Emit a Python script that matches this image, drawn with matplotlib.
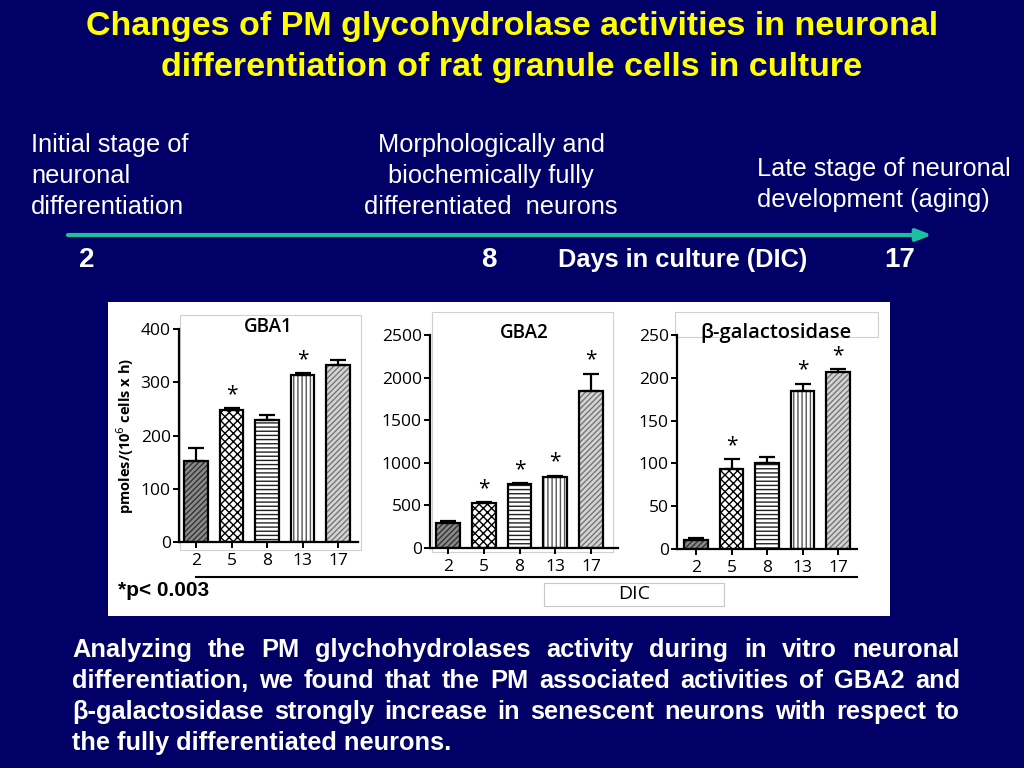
import matplotlib
matplotlib.use("Agg")
from matplotlib import pyplot as plt
from matplotlib.patches import Rectangle, FancyArrowPatch
from matplotlib.lines import Line2D

# data
days = ['2', '5', '8', '13', '17']

gba1 = [153, 248, 229, 314, 332]
gba1_err = [23, 3, 10, 3, 10]
gba1_sig = [False, True, False, True, False]

gba2 = [298, 525, 750, 835, 1842]
gba2_err = [15, 12, 12, 12, 205]
gba2_sig = [False, True, True, True, True]

bgal = [10, 93, 100, 185, 207]
bgal_err = [3, 12, 7, 8, 3]
bgal_sig = [False, True, False, True, True]

title_lines = ['Changes of PM glycohydrolase activities in neuronal',
               'differentiation of rat granule cells in culture']
stage_left = ['Initial stage of', 'neuronal', 'differentiation']
stage_mid = ['Morphologically and', 'biochemically fully', 'differentiated  neurons']
stage_right = ['Late stage of neuronal', 'development (aging)']
para_lines = ['Analyzing the PM glychohydrolases activity during in vitro neuronal',
              'differentiation, we found that the PM associated activities of GBA2 and',
              'β-galactosidase strongly increase in senescent neurons with respect to',
              'the fully differentiated neurons.']

BG = '#000066'
W, H = 1024, 768
SANS = 'Liberation Sans'
CHART = 'Open Sans'
FS = 18.3

fig = plt.figure(figsize=(10.24, 7.68), dpi=100, facecolor=BG)


def fx(x):
    return x / W


def fy(y):
    return 1 - y / H


# title
for k, line in enumerate(title_lines):
    fig.text(fx(512), fy(35 + 41 * k), line, color='#FFFF00', fontsize=24.5,
             fontweight='bold', family=SANS, ha='center', va='baseline')

# stage labels
for k, line in enumerate(stage_left):
    fig.text(fx(31), fy(152 + 31 * k), line, color='white', fontsize=FS,
             family=SANS, ha='left', va='baseline')
for k, line in enumerate(stage_mid):
    fig.text(fx(491), fy(152 + 31 * k), line, color='white', fontsize=FS,
             family=SANS, ha='center', va='baseline')
for k, line in enumerate(stage_right):
    fig.text(fx(757), fy(176 + 31 * k), line, color='white', fontsize=FS,
             family=SANS, ha='left', va='baseline')

# time arrow
arrow = FancyArrowPatch((fx(68), fy(235)), (fx(932), fy(235)), transform=fig.transFigure,
                        arrowstyle='-|>,head_length=9,head_width=3.5', color='#1DBFA0',
                        lw=3, mutation_scale=1, shrinkA=0, shrinkB=0)
fig.patches.append(arrow)

for x, s in [(87, '2'), (489, '8'), (900, '17')]:
    fig.text(fx(x), fy(267), s, color='white', fontsize=20, fontweight='bold',
             family=SANS, ha='center', va='baseline')
fig.text(fx(683), fy(267), 'Days in culture (DIC)', color='white', fontsize=FS,
         fontweight='bold', family=SANS, ha='center', va='baseline')

# white panel holding the three graphs
fig.patches.append(Rectangle((fx(108), fy(616)), fx(890 - 108), (616 - 302) / H,
                             transform=fig.transFigure, facecolor='white',
                             edgecolor='none', zorder=-2))

# faint frames of the pasted graph images
for (x0, y0, x1, y1) in [(180, 315, 361, 550), (432, 312, 613, 552), (675, 312, 878, 337)]:
    fig.patches.append(Rectangle((fx(x0), fy(y1)), fx(x1 - x0), (y1 - y0) / H,
                                 transform=fig.transFigure, facecolor='none',
                                 edgecolor='#d0d0d0', lw=0.8, zorder=-1))

fills = ['#8a8a8a', 'white', 'white', 'white', '#d4d4d4']
hatches = ['//////', 'xxxx', '----', '||||', '//////']
hatch_cols = ['#333333', 'black', '#222222', '#555555', '#777777']


def panel(left, right, y0, ytop, ymax, ystep, vals, errs, sig, title, title_fs, title_x,
          xc0, xc4):
    step = (xc4 - xc0) / 4
    ax = fig.add_axes([fx(left), fy(y0), fx(right - left), (y0 - ytop) / H])
    ax.set_facecolor('none')
    x = list(range(len(days)))
    for i in x:
        ax.bar(i, vals[i], width=0.66, color=fills[i], hatch=hatches[i],
               edgecolor=hatch_cols[i], linewidth=0, zorder=2)
    ax.bar(x, vals, width=0.66, fill=False, edgecolor='black', linewidth=1.6, zorder=3)
    ax.errorbar(x, vals, yerr=[[0] * len(vals), errs], fmt='none', ecolor='black',
                elinewidth=1.6, capsize=6, capthick=1.6, zorder=4)
    for i in x:
        if sig[i]:
            ax.text(i, vals[i] + errs[i] + ymax * 0.015, '*', ha='center', va='bottom',
                    fontsize=15, family=CHART, color='black')
    ax.set_xlim(-(xc0 - left) / step, 4 + (right - xc4) / step)
    ax.set_ylim(0, ymax)
    ax.set_yticks(range(0, ymax + 1, ystep))
    ax.set_xticks(x)
    ax.set_xticklabels(days)
    for s in ['top', 'right']:
        ax.spines[s].set_visible(False)
    for s in ['left', 'bottom']:
        ax.spines[s].set_linewidth(1.6)
    ax.tick_params(width=1.4, length=4, labelsize=12.5, pad=2)
    ax.tick_params(axis='x', pad=4)
    for lab in ax.get_xticklabels() + ax.get_yticklabels():
        lab.set_family(CHART)
    ax.set_title(title, family=CHART, fontsize=title_fs, fontweight='semibold', pad=0,
                 x=title_x, y=0.985)
    return ax


ax1 = panel(179, 358, 542, 329, 400, 100, gba1, gba1_err, gba1_sig, 'GBA1', 13.5, 0.5,
            196, 338)
ax1.set_ylabel('pmoles/(10$^6$ cells x h)', family=CHART, fontweight='bold',
               fontsize=10.5, labelpad=3)
ax2 = panel(430, 618, 548, 335, 2500, 500, gba2, gba2_err, gba2_sig, 'GBA2', 13.5, 0.5,
            448, 591)
ax3 = panel(677, 857, 549, 335, 250, 50, bgal, bgal_err, bgal_sig, 'β-galactosidase', 14.5,
            0.55, 696, 838)

# DIC axis line and box
fig.lines.append(Line2D([fx(196), fx(857)], [fy(577), fy(577)], transform=fig.transFigure,
                        color='black', lw=1.5))
fig.patches.append(Rectangle((fx(544), fy(606)), fx(724 - 544), (606 - 583) / H,
                             transform=fig.transFigure, facecolor='white',
                             edgecolor='#c8c8c8', lw=0.8))
fig.text(fx(634), fy(594), 'DIC', family=CHART, fontsize=14, ha='center', va='center')
fig.text(fx(118), fy(590), '*p< 0.003', family=SANS, fontsize=15, fontweight='bold',
         ha='left', va='center')

# justified paragraph at the bottom
renderer = fig.canvas.get_renderer()
x_left, x_right = 72, 960
for k, line in enumerate(para_lines):
    y = fy(657 + 31 * k)
    words = line.split(' ')
    if k == len(para_lines) - 1:
        fig.text(fx(x_left), y, line, color='white', fontsize=FS, fontweight='bold',
                 family=SANS, ha='left', va='baseline')
        continue
    texts = [fig.text(0, y, w, color='white', fontsize=FS, fontweight='bold',
                      family=SANS, ha='left', va='baseline') for w in words]
    widths = [t.get_window_extent(renderer).width for t in texts]
    gap = (x_right - x_left - sum(widths)) / (len(words) - 1)
    pos = x_left
    for t, wd in zip(texts, widths):
        t.set_x(fx(pos))
        pos += wd + gap

fig.savefig('out.png', dpi=100, facecolor=BG)
